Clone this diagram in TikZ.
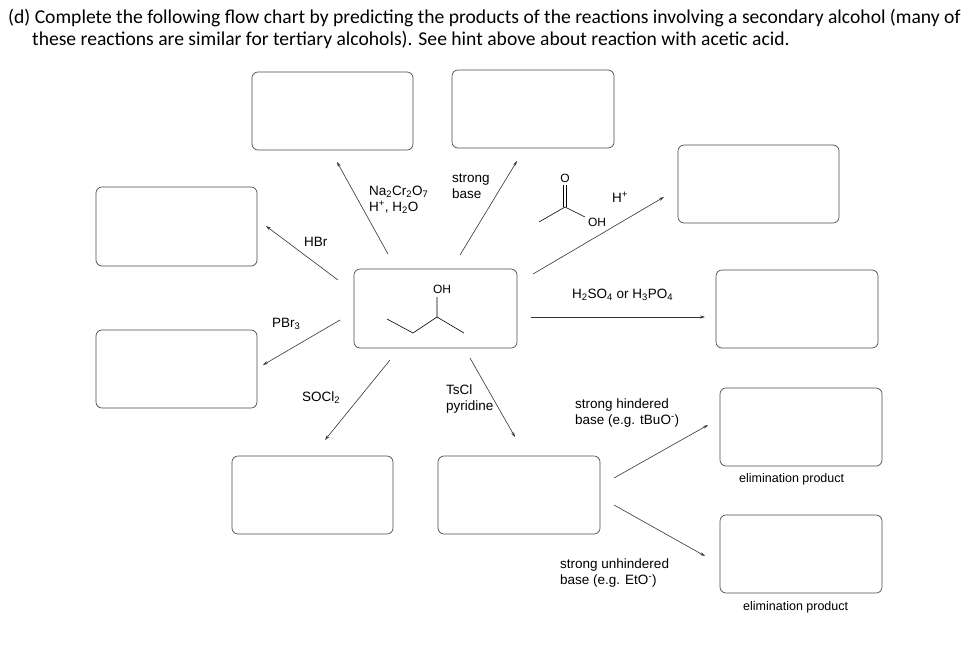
\documentclass[tikz,border=0pt]{standalone}
\usepackage{fontspec}
\setmainfont{Liberation Sans}
\newfontfamily\titlefont{Carlito}
\usetikzlibrary{arrows.meta}
\begin{document}
\begin{tikzpicture}[x=1pt,y=-1pt,
  box/.style={draw=black!70,line width=0.7pt,rounded corners=6pt},
  arr/.style={draw=black!80,line width=0.6pt,-{Stealth[length=5pt,width=3pt]}},
  lbl/.style={font=\fontsize{13.5}{16}\selectfont,inner sep=0pt,anchor=west,align=left},
  bond/.style={line width=0.6pt}]
\useasboundingbox (0,0) rectangle (968,651);
\node[anchor=west,font=\titlefont\fontsize{19.6}{22}\selectfont,align=left,inner sep=0pt] (title) at (8,29)
 {(d) Complete the following flow chart by predicting the products of the reactions involving a secondary alcohol (many of\\
 \hspace*{24pt}these reactions are similar for tertiary alcohols). See hint above about reaction with acetic acid.};
% boxes
\draw[box] (252,72) rectangle (413,150);
\draw[box] (452,70) rectangle (614,148);
\draw[box] (678,145) rectangle (839,223);
\draw[box] (96,187) rectangle (257,266);
\draw[box] (96,330) rectangle (257,408);
\draw[box] (716,270) rectangle (878,348);
\draw[box] (720,388) rectangle (882,466);
\draw[box] (232,456) rectangle (393,534);
\draw[box] (438,456) rectangle (600,534);
\draw[box] (720,515) rectangle (882,593);
\draw[box] (354,269) rectangle (517,348);
% center molecule
\coordinate (m1) at (387,319); \coordinate (m2) at (413,333);
\coordinate (m3) at (437,317); \coordinate (m4) at (464,333); \coordinate (m5) at (437,297);
\draw[bond] (m1)--(m2)--(m3)--(m4) (m3)--(m5);
\node[lbl,anchor=center,font=\fontsize{12}{13}\selectfont] (oh) at (442,289) {OH};
% acetic acid
\coordinate (a1) at (539,222); \coordinate (a2) at (565,207); \coordinate (a4) at (585,217);
\draw[bond] (a1)--(a2)--(a4);
\draw[bond] (563.5,207)--(563.5,185) (566.5,207)--(566.5,185);
\node[lbl,anchor=center,font=\fontsize{12}{13}\selectfont] (ao) at (565,178) {O};
\node[lbl,anchor=center,font=\fontsize{12}{13}\selectfont] (aoh) at (597,222) {OH};
% arrows
\coordinate (s1) at (338,280); \coordinate (e1) at (266,226);
\draw[arr] (s1)--(e1);
\coordinate (s2) at (340,320); \coordinate (e2) at (263,365);
\draw[arr] (s2)--(e2);
\coordinate (s3) at (390,360); \coordinate (e3) at (325,440);
\draw[arr] (s3)--(e3);
\coordinate (s4) at (470,358); \coordinate (e4) at (515,437);
\draw[arr] (s4)--(e4);
\coordinate (s5) at (388,254); \coordinate (e5) at (337,162);
\draw[arr] (s5)--(e5);
\coordinate (s6) at (460,255); \coordinate (e6) at (517,161);
\draw[arr] (s6)--(e6);
\coordinate (s7) at (533,274); \coordinate (e7) at (664,197);
\draw[arr] (s7)--(e7);
\coordinate (s8) at (531,317); \coordinate (e8) at (705,317);
\draw[arr] (s8)--(e8);
\coordinate (s9) at (614,478); \coordinate (e9) at (708,425);
\draw[arr] (s9)--(e9);
\coordinate (s10) at (614,505); \coordinate (e10) at (705,556);
\draw[arr] (s10)--(e10);
% labels
\node[lbl] (l1) at (304,242) {HBr};
\node[lbl] (l2) at (272,324) {PBr\textsubscript{3}};
\node[lbl] (l3) at (302,398) {SOCl\textsubscript{2}};
\node[lbl] (l4) at (446,399) {TsCl\\pyridine};
\node[lbl] (l5) at (369,200) {Na\textsubscript{2}Cr\textsubscript{2}O\textsubscript{7}\\H\textsuperscript{+}, H\textsubscript{2}O};
\node[lbl] (l6) at (452,186) {strong\\base};
\node[lbl] (l7) at (612,197) {H\textsuperscript{+}};
\node[lbl] (l8) at (572,295) {H\textsubscript{2}SO\textsubscript{4} or H\textsubscript{3}PO\textsubscript{4}};
\node[lbl] (l9) at (575,413) {strong hindered\\base (e.g. tBuO\textsuperscript{-})};
\node[lbl] (l10) at (560,573) {strong unhindered\\base (e.g. EtO\textsuperscript{-})};
\node[lbl,font=\fontsize{12.5}{13}\selectfont] (l11) at (739,479) {elimination product};
\node[lbl,font=\fontsize{12.5}{13}\selectfont] (l12) at (743,607) {elimination product};
\end{tikzpicture}
\end{document}
